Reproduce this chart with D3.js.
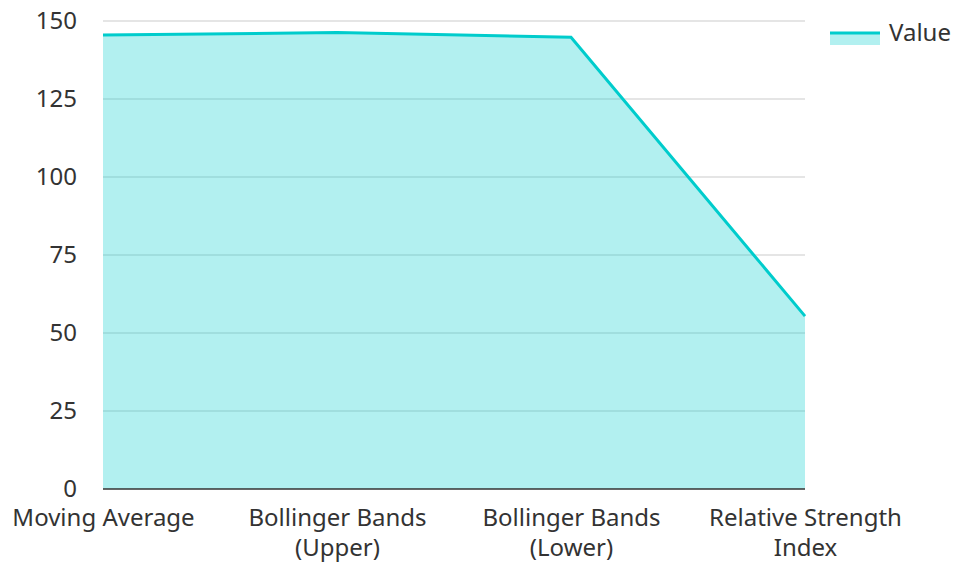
<!DOCTYPE html>
<html>
<head>
<meta charset="utf-8">
<script src="https://cdn.jsdelivr.net/npm/d3@7"></script>
<style>
  html, body { margin: 0; padding: 0; background: #fff; }
  svg text { font-family: "Noto Sans", sans-serif; fill: #333; }
</style>
</head>
<body>
<svg id="chart" width="954" height="563"></svg>
<script>
const categories = [
  ["Moving Average"],
  ["Bollinger Bands", "(Upper)"],
  ["Bollinger Bands", "(Lower)"],
  ["Relative Strength", "Index"]
];
const values = [145.5, 146.3, 144.8, 55.4];
const yTicks = [0, 25, 50, 75, 100, 125, 150];
const seriesName = "Value";

const svg = d3.select("#chart");
const margin = { left: 103, right: 149, top: 21, bottom: 74 };
const W = 954, H = 563;
const x = d3.scalePoint().domain(d3.range(categories.length)).range([margin.left, W - margin.right]);
const y = d3.scaleLinear().domain([0, 150]).range([H - margin.bottom, margin.top]);

const lineColor = "#00cccc";
const fontSize = 24;

// gridlines
svg.append("g").selectAll("line").data(yTicks.filter(d => d !== 0)).join("line")
  .attr("x1", margin.left).attr("x2", W - margin.right)
  .attr("y1", d => y(d)).attr("y2", d => y(d))
  .attr("stroke", "#cccccc").attr("stroke-width", 1.2);

// area
const area = d3.area().x((d, i) => x(i)).y0(y(0)).y1(d => y(d));
svg.append("path").datum(values).attr("d", area)
  .attr("fill", lineColor).attr("fill-opacity", 0.3);

// line
const line = d3.line().x((d, i) => x(i)).y(d => y(d));
svg.append("path").datum(values).attr("d", line)
  .attr("fill", "none").attr("stroke", lineColor).attr("stroke-width", 3);

// x axis baseline
svg.append("line").attr("x1", margin.left).attr("x2", W - margin.right)
  .attr("y1", y(0)).attr("y2", y(0)).attr("stroke", "#333").attr("stroke-width", 1.5);

// y tick labels
const yAxis = d3.axisLeft(y).tickValues(yTicks).tickSize(0).tickPadding(26);
const gy = svg.append("g").attr("transform", `translate(${margin.left},0)`).call(yAxis);
gy.select(".domain").remove();
gy.selectAll("text").style("font-size", fontSize + "px").attr("fill", "#333");

// x tick labels
const xAxis = d3.axisBottom(x).tickSize(0).tickFormat(() => "");
const gx = svg.append("g").attr("transform", `translate(0,${y(0)})`).call(xAxis);
gx.select(".domain").remove();
gx.selectAll(".tick").each(function(d) {
  const t = d3.select(this).select("text").text(null)
    .attr("y", 0).attr("dy", null).style("font-size", fontSize + "px").attr("fill", "#333");
  categories[d].forEach((s, j) => {
    t.append("tspan").attr("x", 0).attr("y", 37 + j * 30).text(s);
  });
});

// legend
const lg = svg.append("g").attr("transform", "translate(830,33)");
lg.append("rect").attr("x", 0).attr("y", 0).attr("width", 50).attr("height", 12)
  .attr("fill", lineColor).attr("fill-opacity", 0.3);
lg.append("line").attr("x1", 0).attr("x2", 50).attr("y1", 0).attr("y2", 0)
  .attr("stroke", lineColor).attr("stroke-width", 3);
lg.append("text").attr("x", 59).attr("y", 0).attr("dy", "0.35em")
  .style("font-size", fontSize + "px").text(seriesName);
</script>
</body>
</html>
